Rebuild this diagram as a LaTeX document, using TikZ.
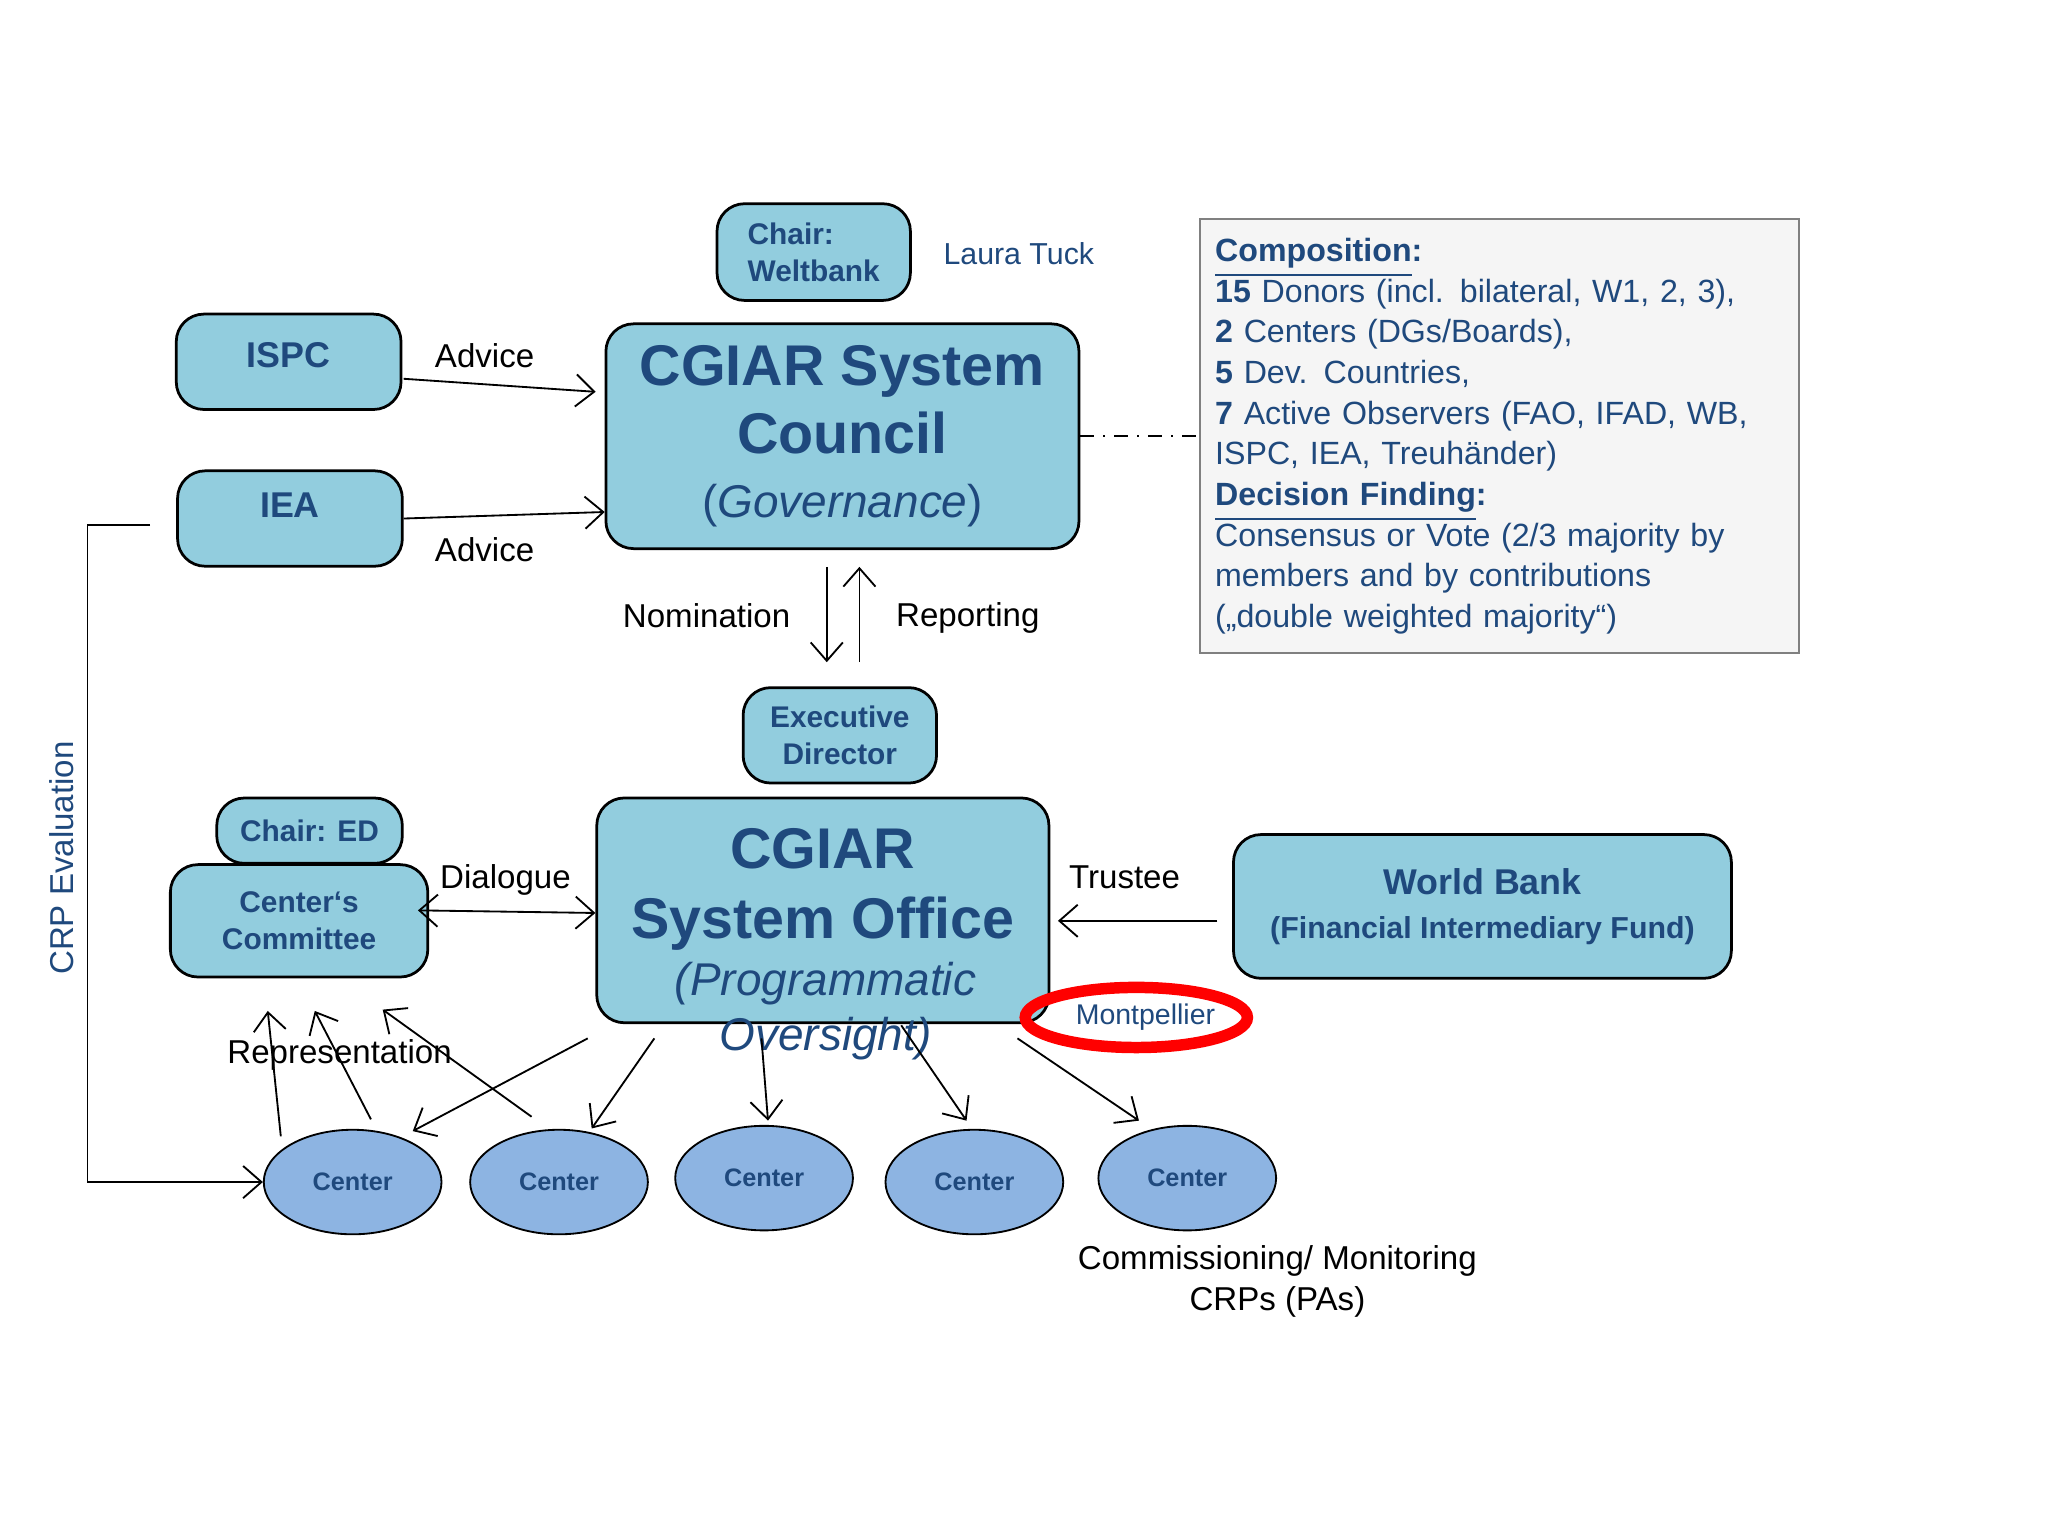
\documentclass[tikz,border=0pt]{standalone}
\usepackage{fontspec}
\setmainfont{Liberation Sans}
\usetikzlibrary{arrows.meta,shapes.geometric}
\definecolor{boxblue}{RGB}{146,205,222}
\definecolor{ellblue}{RGB}{141,180,226}
\definecolor{txtblue}{RGB}{31,73,125}
\tikzset{
  box/.style={draw=black, semithick, fill=boxblue, rounded corners=6pt, inner sep=0pt, text=txtblue, font=\bfseries\fontsize{6.5}{8}\selectfont, align=center},
  center/.style={draw=black, fill=ellblue, ellipse, minimum width=1.36cm, minimum height=0.8cm, inner sep=0pt, text=txtblue, font=\bfseries\fontsize{5.5}{7}\selectfont},
  lbl/.style={font=\fontsize{7.2}{9}\selectfont},
  arr/.style={-{Straight Barb[length=4pt,width=7pt]}, thin}
}
\begin{document}
\begin{tikzpicture}[x=0.01cm,y=-0.01cm]
    \useasboundingbox (0,0) rectangle (1568,1176);
    % council part
    \node[box, minimum width=1.48cm, minimum height=0.74cm, align=left] (chairwb) at (623,193) {Chair:\\Weltbank};
    \node[lbl, text=txtblue, anchor=west, font=\fontsize{6.6}{8}\selectfont] (tuck) at (710,194) {Laura Tuck};
    \node[box, minimum width=1.72cm, minimum height=0.73cm, font=\bfseries\fontsize{7.8}{10}\selectfont] (ispc) at (221,277) {\raisebox{3pt}{ISPC}};
    \node[box, minimum width=1.72cm, minimum height=0.73cm, font=\bfseries\fontsize{7.8}{10}\selectfont] (iea) at (222,397) {\raisebox{6pt}{IEA}};
    \node[box, minimum width=3.62cm, minimum height=1.72cm, font=\bfseries\fontsize{12.5}{14.8}\selectfont] (council) at (645,334)
        {CGIAR System\\Council\\[-1pt]{\mdseries\fontsize{10}{12}\selectfont(\textit{Governance})}};
    \node[draw=gray, fill=gray!8, minimum width=4.57cm, minimum height=3.32cm, text width=4.35cm, align=left, text=txtblue,
          font=\fontsize{7}{8.85}\selectfont] (comp) at (1148,334)
        {\textbf{\underline{Composition}:}\\
         \textbf{15} Donors (incl. bilateral, W1, 2, 3),\\
         \textbf{2} Centers (DGs/Boards),\\
         \textbf{5} Dev. Countries,\\
         \textbf{7} Active Observers (FAO, IFAD, WB,\\
         ISPC, IEA, Treuhänder)\\
         \textbf{\underline{Decision Finding}:}\\
         Consensus or Vote (2/3 majority by\\
         members and by contributions\\
         („double weighted majority“)};
    \draw[dash dot] (council.east) -- (comp.west);
    \coordinate (ispcout) at (309,290);
    \coordinate (ieaout) at (309,397);
    \draw[arr] (ispcout) -- (456,300);
    \draw[arr] (ieaout) -- (463,392);
    \node[lbl] (adv1) at (371,272) {Advice};
    \node[lbl] (adv2) at (371,421) {Advice};
    % office part
    \node[box, minimum width=1.48cm, minimum height=0.73cm] (ed) at (643,563) {Executive\\Director};
    \coordinate (nomtop) at (633,434);
    \coordinate (nombot) at (633,507);
    \coordinate (reptop) at (658,434);
    \coordinate (repbot) at (658,507);
    \draw[arr] (nomtop) -- (nombot);
    \draw[arr] (repbot) -- (reptop);
    \node[lbl] (nom) at (541,471) {Nomination};
    \node[lbl] (rep) at (741,473) {Reporting};
    \node[box, minimum width=3.46cm, minimum height=1.72cm] (office) at (630,697) {};
    \node[text=txtblue, font=\bfseries\fontsize{12.5}{15.3}\selectfont, align=center] (offtxt) at (630,681) {CGIAR\\System Office};
    \node[text=txtblue, font=\itshape\fontsize{10}{12}\selectfont, align=center] (offsub) at (632,774) {(Programmatic\\Oversight)};
    \node[box, minimum width=1.42cm, minimum height=0.5cm] (chaired) at (237,636) {Chair: ED};
    \node[box, minimum width=1.97cm, minimum height=0.86cm] (ccomm) at (229,705) {Center‘s\\Committee};
    \draw[{Straight Barb[length=4pt,width=7pt]}-{Straight Barb[length=4pt,width=7pt]}, thin] (320,697) -- (office.west |- 0,699);
    \node[lbl] (dia) at (387,674) {Dialogue};
    \node[box, minimum width=3.81cm, minimum height=1.1cm, font=\bfseries\fontsize{6.6}{9.5}\selectfont] (wb) at (1135,694)
        {{\fontsize{7.8}{9.5}\selectfont World Bank}\\(Financial Intermediary Fund)};
    \coordinate (trfrom) at (932,705);
    \draw[arr] (trfrom) -- (810,705);
    \node[lbl] (trustee) at (861,672) {Trustee};
    \node[draw=red, line width=2.5pt, ellipse, minimum width=1.7cm, minimum height=0.46cm] (mont) at (870,779) {};
    \node[text=txtblue, font=\fontsize{6.2}{8}\selectfont] (monttxt) at (877,779) {Montpellier};
    % centers
    \node[center] (c1) at (270,905) {Center};
    \node[center] (c2) at (428,905) {Center};
    \node[center] (c3) at (585,902) {Center};
    \node[center] (c4) at (746,905) {Center};
    \node[center] (c5) at (909,902) {Center};
    \draw[arr] (450,795) -- (316,866);
    \draw[arr] (501,795) -- (453,864);
    \draw[arr] (583,795) -- (588,858);
    \draw[arr] (690,785) -- (740,858);
    \draw[arr] (779,795) -- (872,858);
    \draw[arr] (215,870) -- (205,774);
    \draw[arr] (284,857) -- (241,774);
    \draw[arr] (407,855) -- (293,773);
    \node[lbl] (repr) at (260,808) {Representation};
    \coordinate (crpstart) at (115,402);
    \draw[arr] (crpstart) -- (67,402) -- (67,905) -- (c1.west);
    \node[rotate=90, text=txtblue, font=\fontsize{7.2}{9}\selectfont] (crp) at (47,657) {CRP Evaluation};
    \node[lbl, align=center] (commis) at (978,981) {Commissioning/ Monitoring\\CRPs (PAs)};
\end{tikzpicture}
\end{document}
